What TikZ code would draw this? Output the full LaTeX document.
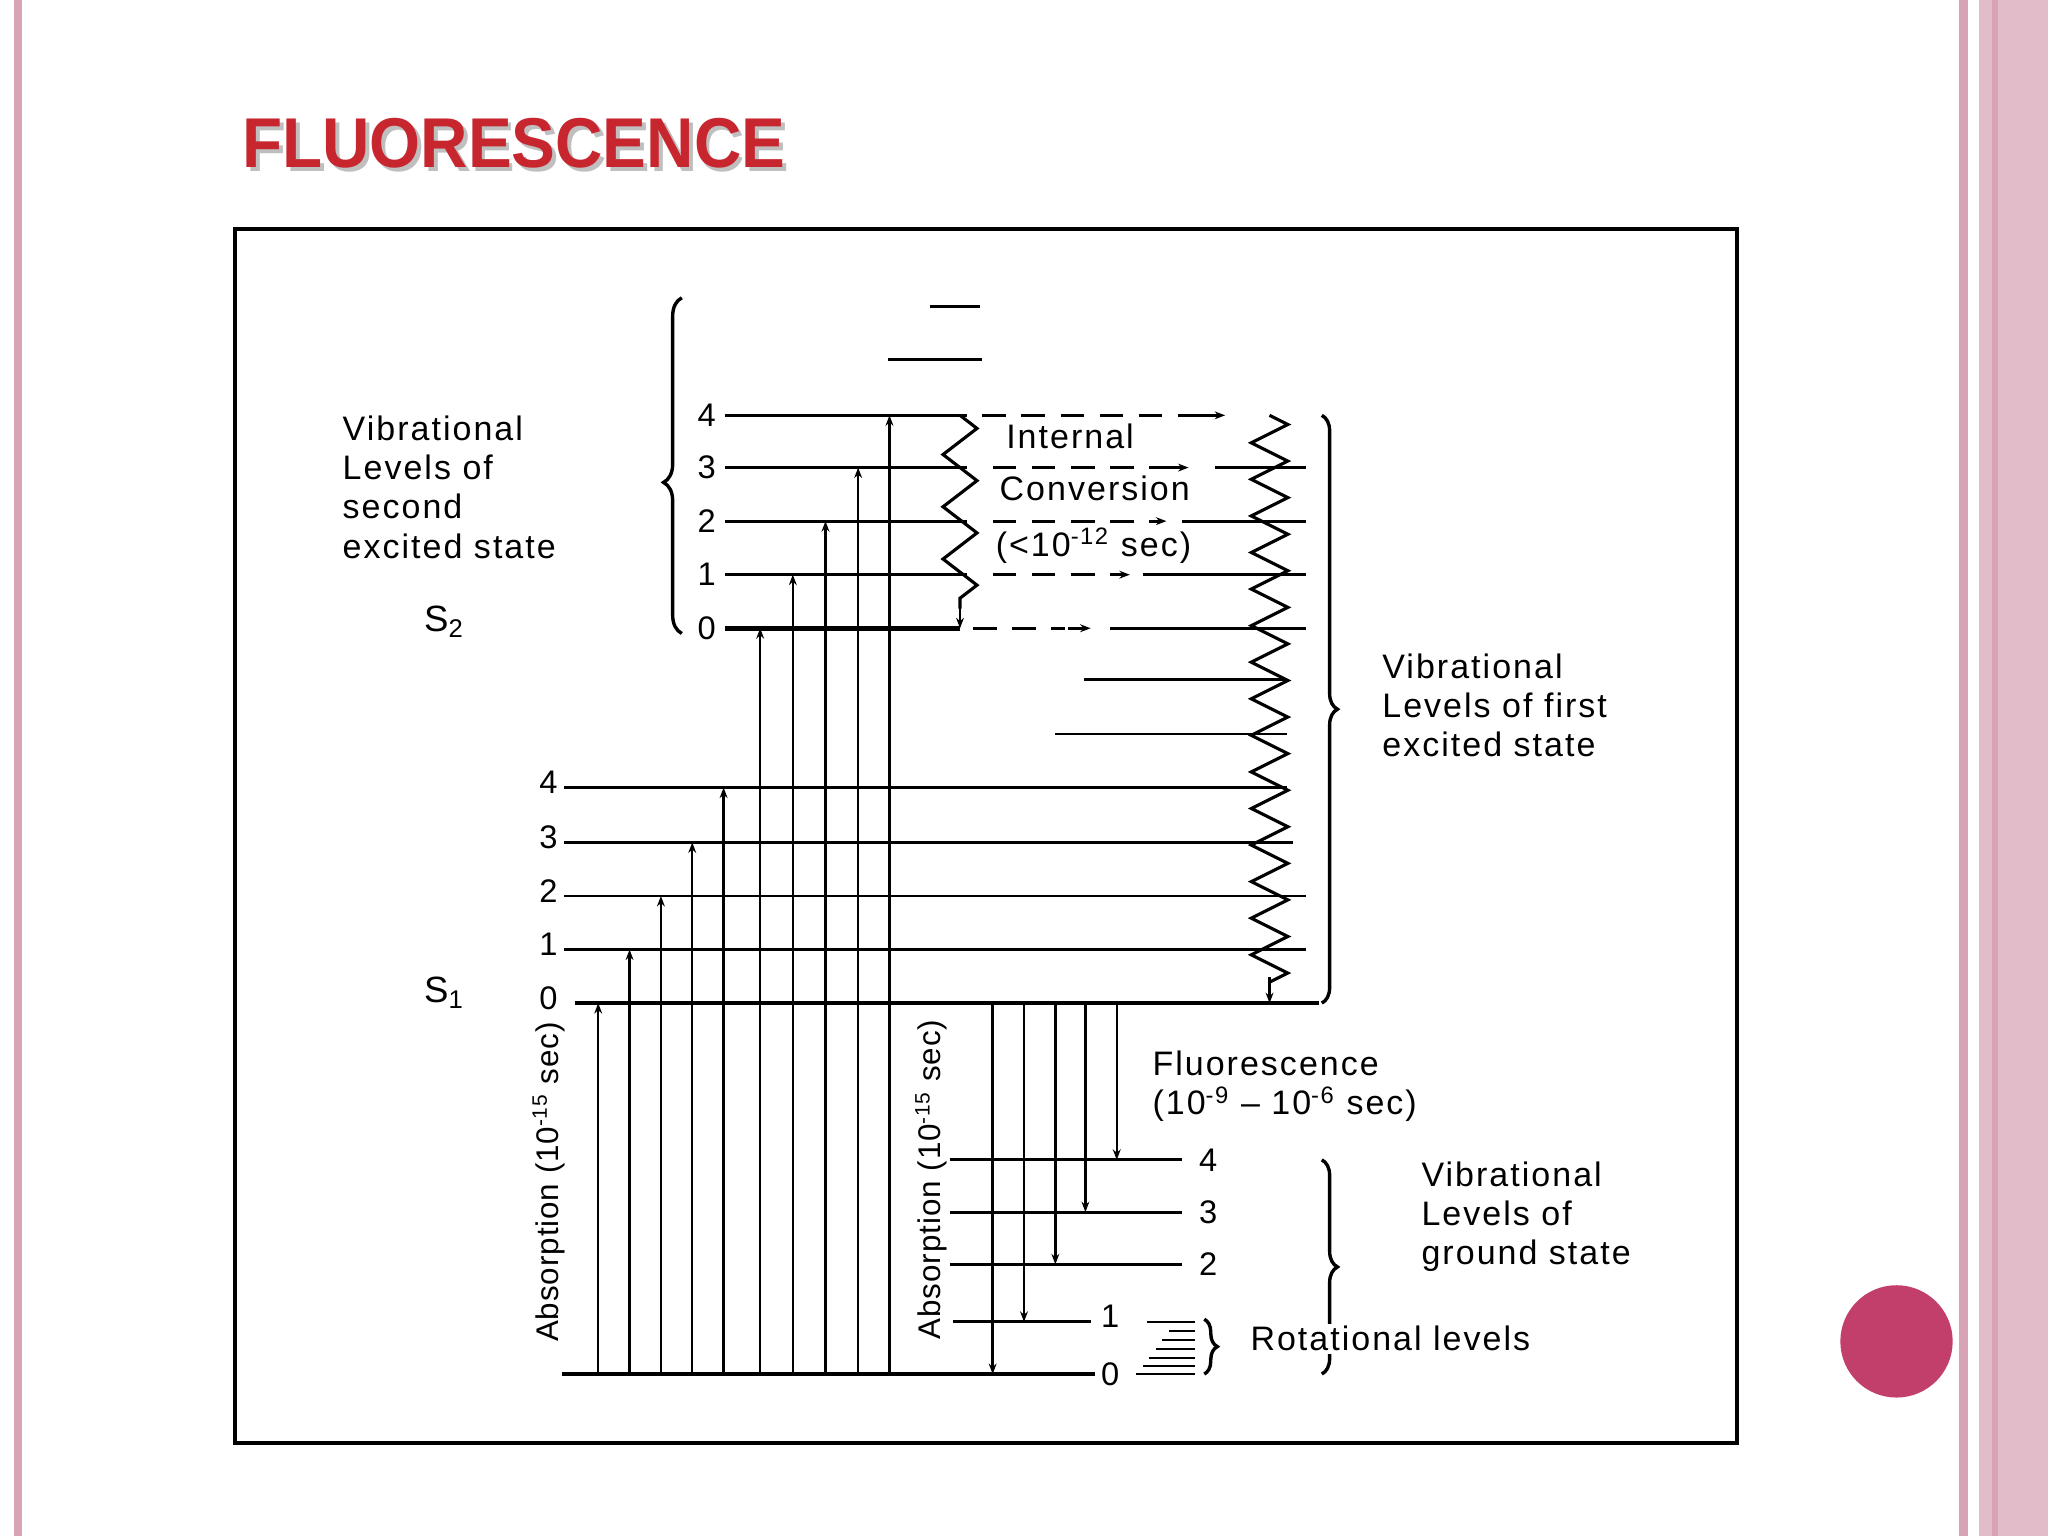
\documentclass[tikz,border=0pt]{standalone}
\usepackage{fontspec}
\setmainfont{Liberation Sans}
\usetikzlibrary{arrows.meta,decorations.pathmorphing,decorations.pathreplacing}
\definecolor{titlered}{HTML}{C8262E}
\definecolor{pinkline}{HTML}{D9A3B6}
\definecolor{pinkband}{HTML}{E2BCC8}
\definecolor{dotcol}{HTML}{C23E6B}
\newcommand{\myexp}[1]{\textsuperscript{#1}}
\begin{document}
\begin{tikzpicture}[x=0.5pt,y=-0.5pt,
  lvl/.style={line width=1.1pt},
  zlvl/.style={line width=1.8pt},
  dlvl/.style={line width=1.1pt,dash pattern=on 9pt off 6pt},
  upar/.style={line width=0.9pt,-{Stealth[length=4pt,width=3pt]}},
  tip/.style={-{Stealth[length=4pt,width=3pt]}},
  lab/.style={font=\fontsize{12.5}{13}\selectfont,inner sep=0pt},
  txt/.style={font=\fontsize{13}{15}\selectfont\addfontfeatures{LetterSpace=6},align=left,inner sep=0pt,anchor=north west},
  zz/.style={decorate,decoration={zigzag,amplitude=7pt,segment length=14pt},line width=1.2pt},
  br/.style={decorate,decoration={brace,amplitude=6pt},line width=1.3pt}]
\useasboundingbox (0,0) rectangle (1568,1176);
\fill[white] (0,0) rectangle (1568,1176);
% slide decorations
\fill[pinkline] (11,0) rectangle (17,1176);
\fill[pinkline] (1500,0) rectangle (1507,1176);
\fill[pinkband] (1515,0) rectangle (1568,1176);
\fill[pinkline] (1525,0) rectangle (1530,1176);
\fill[dotcol] (1452,1027) circle (43);
\node[anchor=west,inner sep=0pt,text=black!25] (tsh) at (188,113) {\fontsize{27}{30}\selectfont\bfseries\addfontfeatures{FakeStretch=0.93}FLUORESCENCE};
\node[anchor=west,inner sep=0pt,text=titlered] (title) at (185,110) {\fontsize{27}{30}\selectfont\bfseries\addfontfeatures{FakeStretch=0.93}FLUORESCENCE};
% frame
\draw[line width=1.5pt] (180,175) rectangle (1330,1105);
% top short lines
\draw[lvl] (712,235) -- (750,235);
\draw[lvl] (680,275) -- (752,275);
% S2 levels
\foreach \n/\y in {4/318,3/358,2/399,1/440,0/481}{
  \node[lab] (s2l\n) at (541,\y) {\n};
  \coordinate (s2a\n) at (555,\y);
}
\draw[lvl] (s2a4) -- (740,318);
\draw[lvl] (s2a3) -- (740,358);
\draw[lvl] (s2a2) -- (740,399);
\draw[lvl] (s2a1) -- (740,440);
\draw[zlvl] (s2a0) -- (735,481);
\draw[dlvl] (752,318) -- (930,318); \draw[tip,lvl] (920,318) -- (938,318);
\draw[dlvl] (760,358) -- (900,358); \draw[tip,lvl] (895,358) -- (910,358); \draw[lvl] (930,358) -- (1000,358);
\draw[dlvl] (760,399) -- (880,399); \draw[tip,lvl] (880,399) -- (893,399); \draw[lvl] (905,399) -- (1000,399);
\draw[dlvl] (760,440) -- (850,440); \draw[tip,lvl] (850,440) -- (865,440); \draw[lvl] (875,440) -- (1000,440);
\draw[dlvl] (745,481) -- (815,481); \draw[tip,lvl] (818,481) -- (835,481); \draw[lvl] (850,481) -- (1000,481);
% S1 extra lines
\draw[lvl] (830,520) -- (985,520);
\draw[lvl] (808,562) -- (985,562);
% S1 levels
\foreach \n/\y/\e in {4/603/985,3/645/990,2/686/1000,1/727/1000}{
  \node[lab] (s1l\n) at (420,\y-4) {\n};
  \draw[lvl] (432,\y) -- (\e,\y);
}
\node[lab] (s1l0) at (420,764) {0};
\draw[zlvl] (440,768) -- (1010,768);
% ground levels
\foreach \n/\y in {4/888,3/928,2/968}{
  \node[lab] (gl\n) at (925,\y) {\n};
  \draw[lvl] (727,\y) -- (905,\y);
}
\node[lab] (gl1) at (850,1008) {1};
\draw[lvl] (730,1012) -- (835,1012);
\node[lab] (gl0) at (850,1052) {0};
\draw[zlvl] (430,1052) -- (838,1052);
% rotational levels
\foreach \y/\a in {1012/878,1019/895,1026/890,1033/885,1040/880,1046/875,1052/870}{
  \draw[line width=0.8pt] (\a,\y) -- (915,\y);
}
% absorption arrows
\foreach \x/\y in {458/768,482/727,506/686,530/645,554/603,582/481,607/440,632/399,657/358,681/318}{
  \draw[upar] (\x,1052) -- (\x,\y);
}
% fluorescence arrows
\foreach \x/\y in {760/1052,784/1012,808/968,831/928,855/888}{
  \draw[upar] (\x,768) -- (\x,\y);
}
% zigzags
\draw[zz,decoration={zigzag,amplitude=6.5pt,segment length=20pt}] (735,318) -- (735,466);
\draw[upar] (735,462) -- (735,481);
\draw[zz] (972,318) -- (972,752);
\draw[upar] (972,748) -- (972,768);
% braces
\draw[br,decoration={brace,amplitude=7pt,aspect=0.45}] (522,485) -- (522,228);
\draw[br] (1012,318) -- (1012,768);
\draw[br] (1012,888) -- (1012,1052);
\draw[br,decoration={brace,amplitude=5pt}] (922,1010) -- (922,1052);
% texts
\node[txt] (t1) at (262,318) {Vibrational\\Levels of\\second\\excited state};
\node[lab,font=\fontsize{14}{15}\selectfont] (s2) at (340,476) {S\textsubscript{2}};
\node[lab,font=\fontsize{14}{15}\selectfont] (s1) at (340,760) {S\textsubscript{1}};
\node[txt] (t2) at (770,324) {Internal};
\node[txt] (t3) at (765,364) {Conversion};
\node[txt] (t4) at (762,404) {(<10\myexp{-12} sec)};
\node[txt] (t5) at (1058,500) {Vibrational\\Levels of first\\excited state};
\node[txt] (t6) at (882,804) {Fluorescence\\(10\myexp{-9} -- 10\myexp{-6} sec)};
\node[txt] (t7) at (1088,889) {Vibrational\\Levels of\\ground state};
\node[txt,anchor=west,fill=white,inner sep=1pt] (t8) at (955,1025) {Rotational levels};
\node[lab,rotate=90,font=\fontsize{12}{14}\selectfont\addfontfeatures{LetterSpace=3}] (ab1) at (420,905) {Absorption (10\myexp{-15} sec)};
\node[lab,rotate=90,font=\fontsize{12}{14}\selectfont\addfontfeatures{LetterSpace=3}] (ab2) at (713,903) {Absorption (10\myexp{-15} sec)};
\end{tikzpicture}
\end{document}
